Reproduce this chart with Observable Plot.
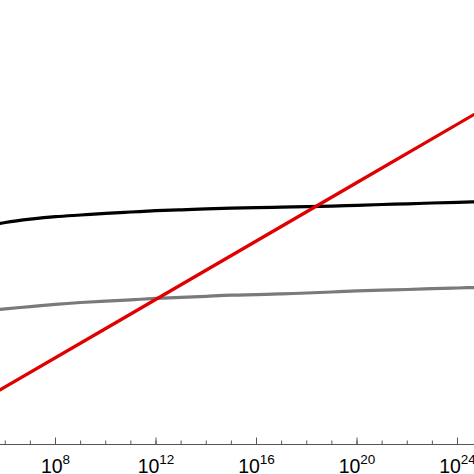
<!DOCTYPE html>
<html>
<head>
<meta charset="utf-8">
<script src="https://cdn.jsdelivr.net/npm/d3@7"></script>
<script src="https://cdn.jsdelivr.net/npm/@observablehq/plot@0.6"></script>
<style>
  html, body { margin: 0; padding: 0; background: #fff; }
  #chart svg { display: block; overflow: visible; }
</style>
</head>
<body>
<div id="chart"></div>
<script>
// x positions (powers of ten)
const exponents = [5, 6, 7, 8, 9, 10, 11, 12, 13, 14, 15, 16, 17, 18, 19, 20, 21, 22, 23, 24, 25];
const majorTickExponents = [8, 12, 16, 20, 24];
const minorTickExponents = [6, 7, 8, 9, 10, 11, 12, 13, 14, 15, 16, 17, 18, 19, 20, 21, 22, 23, 24];

// series values (arbitrary y units)
const blackValues = [21.75, 22.2, 22.53, 22.78, 22.95, 23.12, 23.25, 23.38, 23.47, 23.56, 23.63, 23.68, 23.73, 23.78, 23.84, 23.92, 24.0, 24.07, 24.15, 24.22, 24.28];
const grayValues  = [13.3, 13.57, 13.79, 14.02, 14.2, 14.34, 14.47, 14.61, 14.72, 14.82, 14.93, 14.98, 15.06, 15.15, 15.25, 15.36, 15.44, 15.5, 15.58, 15.65, 15.72];
const redExponents = [5, 10, 15, 20, 25];
const redValues    = [4.3, 11.6, 18.9, 26.2, 33.5];

const black = exponents.map((e, i) => ({x: Math.pow(10, e), y: blackValues[i]}));
const gray  = exponents.map((e, i) => ({x: Math.pow(10, e), y: grayValues[i]}));
const red   = redExponents.map((e, i) => ({x: Math.pow(10, e), y: redValues[i]}));
const majorTicks = majorTickExponents.map(e => Math.pow(10, e));
const minorTicks = minorTickExponents.map(e => Math.pow(10, e));

const chart = Plot.plot({
  width: 474,
  height: 474,
  marginLeft: 0,
  marginRight: 0,
  marginTop: 0,
  marginBottom: 30,
  style: {background: "#fff", fontFamily: "Liberation Sans, Arial, sans-serif"},
  x: {type: "log", domain: [Math.pow(10, 5.811), Math.pow(10, 24.677)], axis: null},
  y: {domain: [0, 44.4], axis: null},
  marks: [
    Plot.line(gray,  {x: "x", y: "y", stroke: "#7a7a7a", strokeWidth: 3.2, clip: true, curve: "natural"}),
    Plot.line(black, {x: "x", y: "y", stroke: "#000", strokeWidth: 3.2, clip: true, curve: "natural"}),
    Plot.line(red,   {x: "x", y: "y", stroke: "#e00000", strokeWidth: 3.2, clip: true}),
    Plot.ruleY([0], {stroke: "#555", strokeWidth: 1}),
    Plot.axisX({ticks: minorTicks, tickSize: -3.5, tickFormat: () => "", label: null, stroke: "#555"}),
    Plot.axisX({ticks: majorTicks, tickSize: -6.5, tickPadding: 11, label: null, fill: "#000", stroke: "#555",
      tickFormat: d => String(Math.round(Math.log10(d)))})
  ]
});

document.getElementById("chart").appendChild(chart);

// render tick labels as 10 with superscript exponent
d3.select(chart).selectAll('g[aria-label="x-axis tick label"] text').each(function() {
  const exp = this.textContent;
  if (!exp) return;
  const t = d3.select(this);
  t.text("10").attr("dy", "0").attr("y", 24)
    .style("font-size", "19.5px").style("font-family", "'Liberation Sans', Arial, sans-serif");
  t.append("tspan").attr("dy", "-9.5").style("font-size", "13.5px").text(exp);
});
</script>
</body>
</html>
